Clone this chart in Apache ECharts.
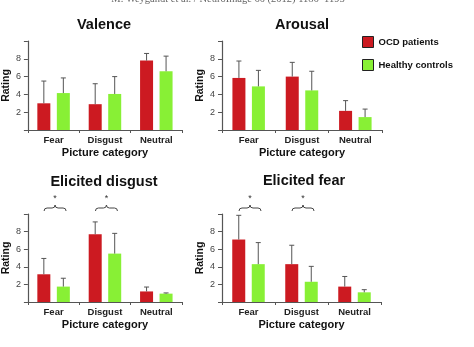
<!DOCTYPE html>
<html>
<head>
<meta charset="utf-8">
<script src="https://cdn.jsdelivr.net/npm/echarts@6/dist/echarts.min.js"></script>
<style>
html,body{margin:0;padding:0;background:#fff;}
#chart{width:474px;height:347px;}
</style>
</head>
<body>
<div id="chart"></div>
<script>
// ---- data ----
const categories = ['Fear', 'Disgust', 'Neutral'];
const panelTitles = ['Valence', 'Arousal', 'Elicited disgust', 'Elicited fear'];
const seriesNames = ['OCD patients', 'Healthy controls'];
const yTicks = [0, 2, 4, 6, 8, 10];

const valenceOCD = [3.0, 2.9, 7.8];
const valenceOCDErr = [2.5, 2.3, 0.8];
const valenceHC = [4.15, 4.05, 6.6];
const valenceHCErr = [1.7, 1.95, 1.7];

const arousalOCD = [5.85, 6.0, 2.15];
const arousalOCDErr = [1.9, 1.6, 1.15];
const arousalHC = [4.9, 4.45, 1.45];
const arousalHCErr = [1.8, 2.15, 0.9];

const disgustOCD = [3.15, 7.7, 1.2];
const disgustOCDErr = [1.8, 1.4, 0.5];
const disgustHC = [1.75, 5.5, 0.95];
const disgustHCErr = [0.95, 2.3, 0.08];

const fearOCD = [7.1, 4.3, 1.75];
const fearOCDErr = [2.75, 2.15, 1.15];
const fearHC = [4.3, 2.3, 1.1];
const fearHCErr = [2.45, 1.75, 0.3];

// significance braces: category indices per panel
const sigPanel3 = [0, 1];
const sigPanel4 = [0, 1];

// ---- styles ----
const RED = '#cc1a21';
const GREEN = '#88f035';
const BAR_W = 13;
const GAP_PX = 6.5;
const grids = [
  {left: 25, top: 41, width: 157, height: 89},
  {left: 222, top: 41, width: 160, height: 89},
  {left: 25, top: 214, width: 157, height: 88},
  {left: 222, top: 214, width: 159, height: 88}
];
const panels = [
  [valenceOCD, valenceOCDErr, valenceHC, valenceHCErr],
  [arousalOCD, arousalOCDErr, arousalHC, arousalHCErr],
  [disgustOCD, disgustOCDErr, disgustHC, disgustHCErr],
  [fearOCD, fearOCDErr, fearHC, fearHCErr]
];
const titlePos = [[104, 25], [302, 25], [104, 182], [304, 181]];
const FONT = 'Liberation Sans, Arial, sans-serif';

const chart = echarts.init(document.getElementById('chart'), null, {renderer: 'canvas'});

const xAxes = [], yAxes = [], series = [];
grids.forEach((g, i) => {
  xAxes.push({
    type: 'category', gridIndex: i, data: categories,
    axisLine: {lineStyle: {color: '#555', width: 1.2}},
    axisTick: {show: true, length: 3, lineStyle: {color: '#555'}},
    axisLabel: {color: '#222', fontSize: 9.5, fontWeight: 'bold', fontFamily: FONT, margin: 5},
    name: 'Picture category', nameLocation: 'middle', nameGap: 17,
    nameTextStyle: {color: '#111', fontSize: 11, fontWeight: 'bold', fontFamily: FONT},
    splitLine: {show: false}
  });
  yAxes.push({
    type: 'value', gridIndex: i, min: 0, max: 10, interval: 2,
    axisLine: {show: true, lineStyle: {color: '#555', width: 1.2}},
    axisTick: {show: true, length: 4, lineStyle: {color: '#555'}},
    axisLabel: {color: '#444', fontSize: 9, fontFamily: FONT, margin: 7,
      formatter: v => (v === 0 || v === 10) ? '' : String(v)},
    splitLine: {show: false},
    name: 'Rating', nameLocation: 'middle', nameGap: 15, nameRotate: 90,
    nameTextStyle: {color: '#111', fontSize: 10.5, fontWeight: 'bold', fontFamily: FONT}
  });
  const [ocd, ocdErr, hc, hcErr] = panels[i];
  series.push({
    name: seriesNames[0], type: 'bar', xAxisIndex: i, yAxisIndex: i,
    data: ocd, barWidth: BAR_W, barGap: (GAP_PX / BAR_W * 100) + '%',
    itemStyle: {color: RED}, z: 2
  });
  series.push({
    name: seriesNames[1], type: 'bar', xAxisIndex: i, yAxisIndex: i,
    data: hc, barWidth: BAR_W, barGap: (GAP_PX / BAR_W * 100) + '%',
    itemStyle: {color: GREEN}, z: 2
  });
  // error bars
  const errData = [];
  categories.forEach((c, k) => {
    errData.push([k, ocd[k], ocd[k] + ocdErr[k], -1]);
    errData.push([k, hc[k], hc[k] + hcErr[k], 1]);
  });
  series.push({
    type: 'custom', xAxisIndex: i, yAxisIndex: i, z: 3, silent: true,
    data: errData,
    encode: {x: 0, y: [1, 2]},
    renderItem: (params, api) => {
      const k = api.value(0);
      const side = api.value(3);
      const off = side * (BAR_W + GAP_PX) / 2;
      const p0 = api.coord([k, api.value(1)]);
      const p1 = api.coord([k, api.value(2)]);
      const x = p0[0] + off;
      return {
        type: 'group',
        children: [
          {type: 'line', shape: {x1: x, y1: p0[1], x2: x, y2: p1[1]},
            style: {stroke: '#555', lineWidth: 1}},
          {type: 'line', shape: {x1: x - 2.5, y1: p1[1], x2: x + 2.5, y2: p1[1]},
            style: {stroke: '#555', lineWidth: 1}}
        ]
      };
    }
  });
});

function braceSeries(idx, cats) {
  return {
    type: 'custom', xAxisIndex: idx, yAxisIndex: idx, silent: true, clip: false, z: 4,
    data: cats.map(k => [k, 10]),
    renderItem: (params, api) => {
      const p = api.coord([api.value(0), api.value(1)]);
      const xc = p[0] + 1.5, W = 22;
      const x0 = xc - W / 2, x1 = xc + W / 2;
      const yb = p[1] - 3, ym = p[1] - 6, yt = p[1] - 9;
      const d = `M${x0},${yb} Q${x0},${ym} ${x0 + 3},${ym} L${xc - 3},${ym} Q${xc},${ym} ${xc},${yt} ` +
        `Q${xc},${ym} ${xc + 3},${ym} L${x1 - 3},${ym} Q${x1},${ym} ${x1},${yb}`;
      return {
        type: 'group',
        children: [
          {type: 'path', shape: {pathData: d}, style: {stroke: '#444', fill: null, lineWidth: 1}},
          {type: 'text', x: xc, y: yt - 6, style: {text: '*', fontSize: 9, fill: '#333',
            align: 'center', verticalAlign: 'middle', fontFamily: FONT}}
        ]
      };
    }
  };
}
series.push(braceSeries(2, sigPanel3));
series.push(braceSeries(3, sigPanel4));

const graphics = panelTitles.map((t, i) => ({
  type: 'text', x: titlePos[i][0], y: titlePos[i][1],
  style: {text: t, fontSize: 14.5, fontWeight: 'bold', fontFamily: FONT, fill: '#111',
    align: 'center', verticalAlign: 'middle'}
}));
graphics.push({
  type: 'text', x: 228, y: 4.5,
  style: {text: 'M. Weygandt et al. / NeuroImage 60 (2012) 1186–1195', fontSize: 10.5,
    fontFamily: 'Liberation Serif, Times New Roman, serif', fill: '#666',
    align: 'center', verticalAlign: 'bottom'}
});

chart.setOption({
  animation: false,
  backgroundColor: '#fff',
  grid: grids,
  xAxis: xAxes,
  yAxis: yAxes,
  series: series,
  legend: {
    data: seriesNames, orient: 'vertical', left: 362, top: 36,
    itemWidth: 11, itemHeight: 11, itemGap: 11, icon: 'rect',
    itemStyle: {borderColor: '#222', borderWidth: 1},
    textStyle: {color: '#111', fontSize: 9.5, fontWeight: 'bold', fontFamily: FONT, padding: [0, 0, 0, 0]},
    padding: 0
  },
  graphic: graphics
});
</script>
</body>
</html>
